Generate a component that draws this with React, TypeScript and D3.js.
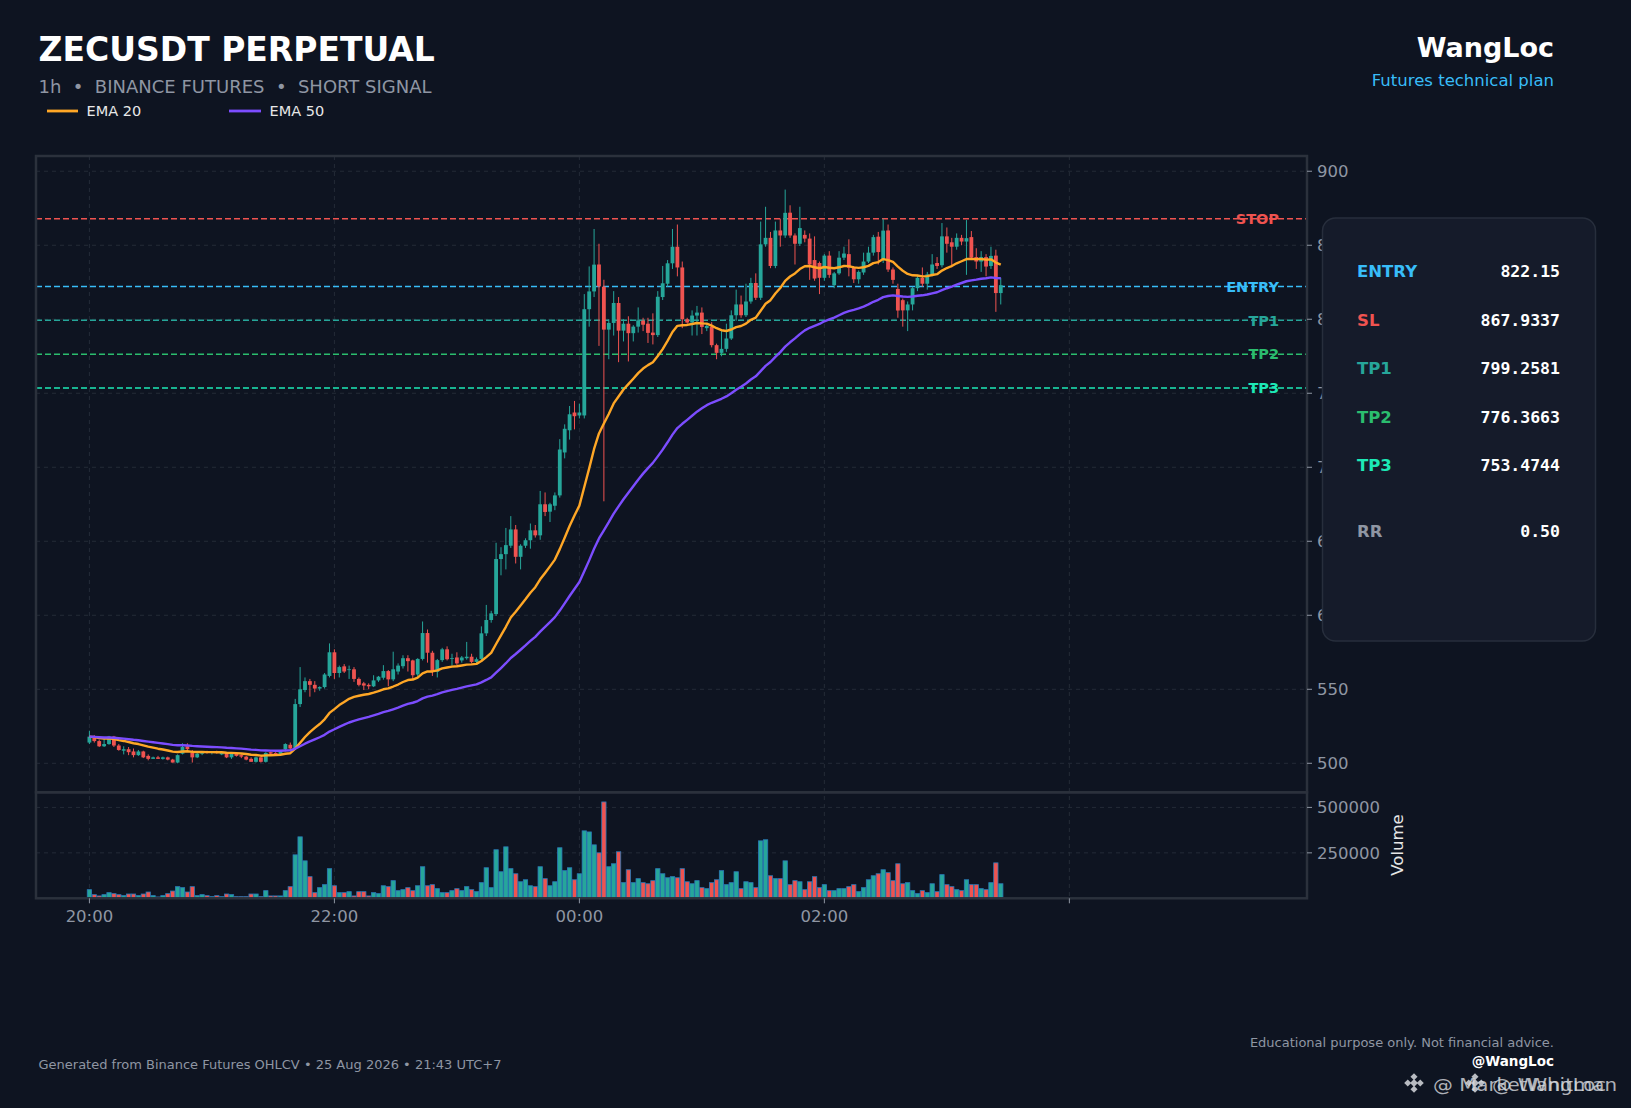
import React from "react";
import * as d3 from "d3";

// ---------- DATA ----------
const open = [
  514, 517.5, 515, 511.5, 513, 518, 512, 508.5, 509.5, 508, 505.5, 508, 505, 503, 504, 503, 504, 502.5, 500.5, 506.5,
  511.5, 507, 504, 506.5, 507.5, 507, 507.5, 506, 507, 504, 506.5, 505.5, 504.5, 503, 501, 504, 501, 507.5, 507, 506,
  509.5, 512.5, 510, 540, 549.5, 555.5, 553, 550.5, 551.5, 559, 575, 561, 565.5, 563, 563.5, 557, 554, 553, 552, 556,
  557.8, 562.3, 556.7, 562, 565.6, 571, 569.5, 560, 570.5, 588, 574.7, 561.8, 569.7, 577, 570.5, 571.5, 569.5, 571, 572, 568.5,
  570.5, 587.8, 596.8, 600.8, 638, 641.3, 647, 658, 639.5, 647, 650.7, 657.4, 654, 675, 670, 674, 681, 710, 725, 737,
  735, 735, 806.8, 818.8, 837, 822, 793, 797.5, 811, 792.3, 797, 790.6, 795, 799, 797, 791, 789.3, 815, 824, 837.8,
  849, 835, 800, 797.8, 802.5, 804.5, 794, 795, 782.5, 777.3, 780, 787, 802.7, 810, 802.7, 812, 824.5, 814.5, 850.6, 855,
  836, 860, 856.6, 872, 856.6, 851, 857, 854.5, 840, 838, 828, 843, 823, 831, 841.6, 844, 835, 827, 831.6, 839,
  845, 855.8, 840, 860, 833.6, 820.5, 812.9, 806, 810, 821, 828, 824, 830.3, 838, 836.5, 856, 852, 849, 855, 852.5,
  855.5, 842, 839, 842, 836, 843, 817.7,
];
const high = [
  522, 519, 516, 517, 518.5, 518.5, 513, 511.5, 511, 510, 509, 508.5, 506, 504.5, 505, 504.5, 504.5, 503, 506, 513.5,
  513.5, 509, 507, 508, 508.5, 508, 508.5, 507.5, 507.5, 507.5, 507, 506, 505, 504, 504.5, 504.5, 507.5, 508, 507.5, 509,
  513.5, 514, 543.5, 565, 558, 557, 555.5, 552, 561, 581, 577, 566, 567, 566, 565, 558, 555, 554, 559.5, 559,
  566.3, 563, 575.4, 567.5, 573, 573, 570, 571, 595.8, 590.4, 576, 570.5, 578, 579, 574, 575, 572.5, 582, 574, 571.5,
  592.5, 607, 603, 649, 646, 659, 667, 661, 648, 652, 662, 661, 684, 683, 676, 683, 719, 729, 741.4, 744.8,
  743, 817, 835.7, 861, 851, 826.7, 800, 819, 815, 800, 802, 796, 808, 801, 801, 804, 819, 836, 840, 861,
  864, 839, 801, 806, 809, 808, 797, 798, 783.5, 792, 797, 806, 820, 816, 824, 828, 831, 866, 876, 859,
  866, 868, 887.6, 877, 858, 876, 860, 858, 856, 839, 844, 846, 832, 846, 849, 854, 836, 833, 845, 849,
  857, 859, 868, 864, 835, 824, 814, 812, 822, 830, 835, 832, 844, 842, 865, 862, 855, 858, 857, 867,
  859.6, 848, 846, 844, 849, 847, 828,
];
const low = [
  513, 514, 511, 511, 512.5, 511, 508.5, 506, 505.5, 504, 505, 503.5, 502, 503, 503, 502.5, 502, 500.5, 500, 506,
  508, 500.5, 503.5, 505.5, 506.5, 506, 506.5, 505.5, 503.5, 503, 504.5, 503.5, 502, 501, 500.5, 500.5, 500.5, 506, 505.5, 505.5,
  508, 509, 509, 538, 548, 545, 548, 549, 550.5, 558, 557, 558, 561, 557, 555, 552, 549.5, 550, 551.5, 555,
  556.5, 552, 555.5, 560, 564, 562, 557, 558.5, 569.5, 568, 559, 558, 568.5, 569.5, 566, 566.5, 568, 570, 567.5, 567.5,
  569.5, 586, 595, 599.5, 627, 631, 645.5, 635, 631, 645.5, 645, 652.5, 651, 667, 663, 671, 679.5, 706, 718.7, 725.6,
  733, 733, 795, 815, 782, 677, 773, 789, 771, 785, 771.5, 785, 791, 792, 784, 783, 788, 813, 822, 834,
  829, 794, 797, 789, 789, 790, 792, 781, 773, 775, 778, 786, 799, 801, 801.5, 810.5, 813, 813, 849, 834.5,
  834.5, 849, 855, 855, 837, 849.5, 852, 826.6, 826, 817, 826, 828, 821, 830, 840, 829, 824.5, 824, 830, 838,
  843, 837, 838, 832, 824, 801, 795, 792, 806, 819, 822, 820, 829, 834, 835, 845, 835, 847, 850, 830,
  840, 834, 832, 829, 834, 805, 810,
];
const close = [
  518, 515, 511.5, 513, 518, 512, 509, 509.5, 507.5, 505.5, 508, 504, 503, 504, 503, 504, 502.5, 500.5, 505.5, 511,
  509.5, 504, 506.5, 507.5, 507, 507.5, 507, 507, 504, 506.5, 505, 504.5, 502.5, 501, 504, 501, 507, 506.5, 506, 508.5,
  513, 510, 540, 550, 555.5, 553, 550.5, 551.5, 560, 575, 561, 565, 562, 563.5, 557, 553, 552.5, 552, 556, 558.5,
  562.3, 556.7, 563.5, 566, 571, 569, 559.5, 570.5, 588, 574.7, 561.8, 569.7, 577, 570.3, 571, 567.5, 571.5, 572, 568.5, 570.3,
  587.8, 596.8, 601.3, 638, 641.3, 647.4, 658, 639.5, 647, 650.7, 657.4, 654, 675, 669.8, 675, 681, 712, 726, 735.8, 734.5,
  737, 806.8, 818.8, 836.9, 822.2, 793, 797.5, 811, 792.3, 797, 790.6, 795, 799.3, 796.3, 790.8, 789.3, 815.2, 824.3, 837.8, 849,
  835, 800, 797.8, 802.5, 804.5, 794.8, 795.5, 782.5, 777.3, 780, 787, 802.7, 810, 802.7, 812, 824.5, 814.5, 850.6, 855, 836,
  860, 856.6, 871.9, 856.6, 851, 861.6, 854.5, 837, 827.5, 828, 843, 830, 831, 841.6, 844.4, 834.8, 827, 832, 839, 845,
  855.5, 845.4, 859.9, 833.6, 826.6, 805.9, 806, 810, 821, 828, 824, 830.3, 837, 836, 856, 851, 849, 855, 852.5, 854.8,
  841.6, 839, 842, 835.6, 842.8, 817.7, 823,
];
const volume = [
  47500, 20000, 13000, 20000, 31000, 25600, 20000, 14600, 23700, 23700, 14600, 23700, 34700, 14600, 7300, 14600, 25600, 40000, 64000, 58500,
  34700, 64000, 14600, 20000, 14600, 9000, 14600, 9000, 23700, 20000, 9000, 9000, 9000, 23700, 23700, 9000, 42000, 13000, 13000, 13000,
  42000, 64000, 239000, 338000, 206000, 119000, 31000, 58500, 75000, 163000, 69000, 31000, 31000, 36500, 13000, 36500, 36500, 13000, 31000, 25600,
  69000, 64000, 97000, 42000, 47500, 58500, 42000, 69000, 173600, 69000, 75000, 53000, 31000, 31000, 42000, 53000, 42000, 64000, 47500, 36500,
  86000, 168000, 58500, 267000, 146000, 283000, 163000, 135000, 91000, 102000, 69000, 64000, 173600, 108000, 69000, 91000, 278000, 152000, 168000, 102000,
  135000, 371000, 365000, 294000, 250000, 530000, 173600, 190000, 256000, 86000, 157000, 86000, 108000, 86000, 80000, 97000, 163000, 135000, 113000, 119000,
  113000, 163000, 91000, 80000, 97000, 58500, 53000, 86000, 102000, 152000, 75000, 86000, 146000, 53000, 91000, 86000, 58500, 316000, 322000, 124000,
  108000, 108000, 206000, 75000, 97000, 91000, 47500, 91000, 119000, 58500, 75000, 42000, 42000, 53000, 53000, 64000, 75000, 36500, 58500, 102000,
  124000, 135000, 157000, 141000, 97000, 190000, 80000, 86000, 42000, 25600, 42000, 31000, 80000, 36500, 130000, 75000, 64000, 47500, 42000, 102000,
  75000, 75000, 53000, 47500, 86000, 195000, 80000,
];

const xTickIdx = [0, 50, 100, 150, 200];
const xTickLabels = ["20:00", "22:00", "00:00", "02:00", ""];
const priceTicks = [500, 550, 600, 650, 700, 750, 800, 850, 900];
const volTicks = [250000, 500000];

const levelNames = ["STOP", "ENTRY", "TP1", "TP2", "TP3"];
const levelValues = [867.9337, 822.15, 799.2581, 776.3663, 753.4744];
const levelColors = ["#ef5350", "#38bdf8", "#26a69a", "#2bbd6e", "#1de9b6"];

const panelLabels = ["ENTRY", "SL", "TP1", "TP2", "TP3", "RR"];
const panelValues = ["822.15", "867.9337", "799.2581", "776.3663", "753.4744", "0.50"];
const panelColors = ["#38bdf8", "#ef5350", "#26a69a", "#2bbd6e", "#1de9b6", "#8f96a3"];

const emaPeriods = [20, 50];
const emaNames = ["EMA 20", "EMA 50"];
const emaColors = ["#ffa726", "#7c4dff"];

// ---------- HELPERS ----------
function ema(values: number[], n: number): number[] {
  const a = 2 / (n + 1);
  const out: number[] = [];
  values.forEach((v, i) => {
    out.push(i === 0 ? v : a * v + (1 - a) * out[i - 1]);
  });
  return out;
}

const W = 1631;
const H = 1108;
const L = 36;
const R = 1307;
const TOP = 156;
const MID = 792.3;
const BOT = 898.3;

const BG = "#0e1421";
const GRID = "#242b37";
const FRAME = "#2b313c";
const TICK = "#8f96a3";
const UP = "#26a69a";
const DOWN = "#ef5350";
const SANS = "'DejaVu Sans', 'Noto Sans', sans-serif";
const MONO = "'DejaVu Sans Mono', 'Liberation Mono', monospace";

export default function App() {
  const x = d3.scaleLinear().domain([-10.9, 248.5]).range([L, R]);
  const y = d3.scaleLinear().domain([480.4, 910.3]).range([MID, TOP]);
  const vMax = (d3.max(volume) as number) * 1.1;
  const yv = d3.scaleLinear().domain([0, vMax]).range([BOT, MID]);
  const step = x(1) - x(0);
  const bodyW = step * 0.78;
  const volW = step * 0.88;

  const emaSeries = emaPeriods.map((p) => ema(close, p));
  const line = d3
    .line<number>()
    .x((_, i) => x(i))
    .y((d) => y(d))
    .curve(d3.curveLinear);

  const binanceLogo = (cx: number, cy: number, s: number, key: string) => {
    const pts = [
      [0, 0, 0.55],
      [0, -1.25, 0.5],
      [0, 1.25, 0.5],
      [-1.25, 0, 0.5],
      [1.25, 0, 0.5],
    ];
    return (
      <g key={key} transform={`translate(${cx},${cy})`} fill="#d6d9de" opacity={0.85}>
        {pts.map((p, i) => (
          <rect
            key={i}
            x={p[0] * s - p[2] * s}
            y={p[1] * s - p[2] * s}
            width={p[2] * s * 2}
            height={p[2] * s * 2}
            transform={`rotate(45 ${p[0] * s} ${p[1] * s})`}
          />
        ))}
      </g>
    );
  };

  return (
    <svg
      width={W}
      height={H}
      viewBox={`0 0 ${W} ${H}`}
      style={{ position: "absolute", left: 0, top: 0, display: "block" }}
      fontFamily={SANS}
    >
      <rect x={0} y={0} width={W} height={H} fill={BG} />

      {/* header */}
      <text x={38.5} y={60.5} fontSize={33} fontWeight="bold" fill="#ffffff">
        ZECUSDT PERPETUAL
      </text>
      <text x={38.5} y={92.5} fontSize={18} fill={TICK} style={{ whiteSpace: "pre" }}>
        {"1h  •  BINANCE FUTURES  •  SHORT SIGNAL"}
      </text>
      {emaNames.map((n, i) => (
        <g key={n}>
          <line x1={[47, 229][i]} x2={[78, 261][i]} y1={111} y2={111} stroke={emaColors[i]} strokeWidth={2.8} />
          <text x={[86.5, 269.5][i]} y={115.5} fontSize={14.5} fill="#e8e8e8">
            {n}
          </text>
        </g>
      ))}
      <text x={1554} y={56.5} fontSize={27} fontWeight="bold" fill="#ffffff" textAnchor="end">
        WangLoc
      </text>
      <text x={1554} y={86} fontSize={16.5} fill="#38bdf8" textAnchor="end">
        Futures technical plan
      </text>

      {/* grid */}
      {priceTicks.map((p) => (
        <line key={"gp" + p} x1={L} x2={R} y1={y(p)} y2={y(p)} stroke={GRID} strokeWidth={1} strokeDasharray="4,4" />
      ))}
      {volTicks.map((v) => (
        <line key={"gv" + v} x1={L} x2={R} y1={yv(v)} y2={yv(v)} stroke={GRID} strokeWidth={1} strokeDasharray="4,4" />
      ))}
      {xTickIdx.map((t) => (
        <line key={"gx" + t} x1={x(t)} x2={x(t)} y1={TOP} y2={BOT} stroke={GRID} strokeWidth={1} strokeDasharray="4,4" />
      ))}

      {/* level lines */}
      {levelValues.map((v, i) => (
        <line
          key={"lv" + i}
          x1={L}
          x2={R}
          y1={y(v)}
          y2={y(v)}
          stroke={levelColors[i]}
          strokeWidth={1.5}
          strokeDasharray="6,3"
        />
      ))}

      {/* candles */}
      {close.map((c, i) => {
        const o = open[i];
        const up = c >= o;
        const col = up ? UP : DOWN;
        const top = y(Math.max(o, c));
        const bot = y(Math.min(o, c));
        return (
          <g key={"c" + i}>
            <line x1={x(i)} x2={x(i)} y1={y(high[i])} y2={y(low[i])} stroke={col} strokeWidth={1} />
            <rect x={x(i) - bodyW / 2} y={top} width={bodyW} height={Math.max(bot - top, 0.8)} fill={col} />
          </g>
        );
      })}

      {/* EMA lines */}
      {emaSeries.map((s, k) => (
        <path key={"ema" + k} d={line(s) || ""} fill="none" stroke={emaColors[k]} strokeWidth={2.4} strokeLinejoin="round" />
      ))}

      {/* level labels */}
      {levelNames.map((n, i) => (
        <text
          key={"ll" + i}
          x={1279}
          y={y(levelValues[i])}
          dy="0.36em"
          fontSize={14.5}
          fontWeight="bold"
          fill={levelColors[i]}
          textAnchor="end"
        >
          {n}
        </text>
      ))}

      {/* volume bars */}
      {volume.map((v, i) => {
        const up = close[i] >= open[i];
        return (
          <rect
            key={"v" + i}
            x={x(i) - volW / 2}
            y={yv(v)}
            width={volW}
            height={BOT - yv(v)}
            fill={up ? UP : DOWN}
            stroke="#2a7ab8"
            strokeWidth={0.8}
          />
        );
      })}

      {/* frames */}
      <rect x={L} y={TOP} width={R - L} height={MID - TOP} fill="none" stroke={FRAME} strokeWidth={2.5} />
      <rect x={L} y={MID} width={R - L} height={BOT - MID} fill="none" stroke={FRAME} strokeWidth={2.5} />

      {/* axes: price */}
      {priceTicks.map((p) => (
        <g key={"tp" + p}>
          <line x1={R} x2={R + 5} y1={y(p)} y2={y(p)} stroke={TICK} strokeWidth={1} />
          <text x={1317} y={y(p)} dy="0.36em" fontSize={16.5} fill={TICK}>
            {p}
          </text>
        </g>
      ))}
      {volTicks.map((v) => (
        <g key={"tv" + v}>
          <line x1={R} x2={R + 5} y1={yv(v)} y2={yv(v)} stroke={TICK} strokeWidth={1} />
          <text x={1317} y={yv(v)} dy="0.36em" fontSize={16.5} fill={TICK}>
            {v}
          </text>
        </g>
      ))}
      <text
        x={1397}
        y={845}
        fontSize={16.5}
        fill="#e6e6e6"
        textAnchor="middle"
        dy="0.36em"
        transform="rotate(-90 1397 845)"
      >
        Volume
      </text>
      {xTickIdx.map((t, i) => (
        <g key={"tx" + t}>
          <line x1={x(t)} x2={x(t)} y1={BOT} y2={BOT + 5} stroke={TICK} strokeWidth={1} />
          <text x={x(t)} y={922} fontSize={16.5} fill={TICK} textAnchor="middle">
            {xTickLabels[i]}
          </text>
        </g>
      ))}

      {/* info panel */}
      <rect x={1322.5} y={218} width={273} height={423} rx={13} ry={13} fill="#151b2a" stroke="#272e3c" strokeWidth={1.5} />
      {panelLabels.map((l, i) => {
        const yy = [271, 320, 368.5, 417, 465.5, 531][i];
        return (
          <g key={"pl" + l}>
            <text x={1357} y={yy} dy="0.36em" fontSize={16.5} fontWeight="bold" fill={panelColors[i]}>
              {l}
            </text>
            <text x={1560} y={yy} dy="0.36em" fontSize={16.5} fontWeight="bold" fill="#ffffff" fontFamily={MONO} textAnchor="end">
              {panelValues[i]}
            </text>
          </g>
        );
      })}

      {/* footer */}
      <text x={38.5} y={1068.5} fontSize={13} fill={TICK}>
        Generated from Binance Futures OHLCV • 25 Aug 2026 • 21:43 UTC+7
      </text>
      <text x={1554} y={1046.5} fontSize={13} fill={TICK} textAnchor="end">
        Educational purpose only. Not financial advice.
      </text>
      <text x={1554} y={1066} fontSize={13.5} fontWeight="bold" fill="#ffffff" textAnchor="end">
        @WangLoc
      </text>

      {/* watermark */}
      {binanceLogo(1414, 1083, 5, "wl1")}
      {binanceLogo(1475, 1083, 5, "wl2")}
      <text x={1433} y={1090.5} fontSize={17.5} fill="#d6d9de" opacity={0.8} textLength={184} lengthAdjust="spacingAndGlyphs">
        @ MarketWhitman
      </text>
      <text x={1492} y={1090.5} fontSize={17.5} fill="#d6d9de" opacity={0.8} textLength={114} lengthAdjust="spacingAndGlyphs">
        @ WangLoc
      </text>
    </svg>
  );
}
